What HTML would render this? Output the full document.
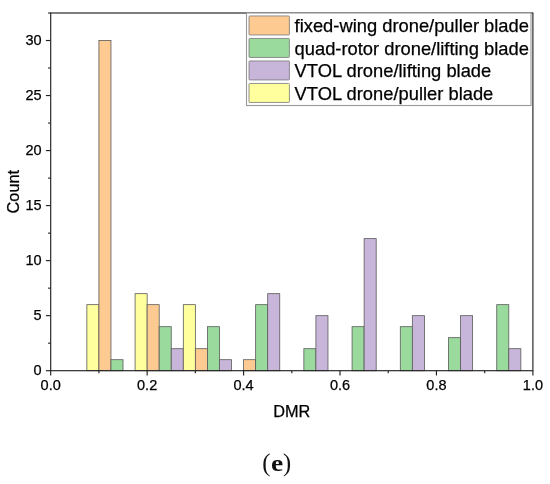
<!DOCTYPE html>
<html><head><meta charset="utf-8"><title>DMR histogram (e)</title>
<style>html,body{margin:0;padding:0;background:#fff;}body{width:550px;height:484px;position:relative;overflow:hidden;}</style>
</head><body>
<svg width="550" height="484" viewBox="0 0 550 484" style="position:absolute;left:0;top:0">
<rect x="86.87" y="304.66" width="12.05" height="66.04" fill="#FFFF9E" stroke="#5a5a5a" stroke-width="0.8"/>
<rect x="98.92" y="40.52" width="12.05" height="330.18" fill="#FDCA91" stroke="#5a5a5a" stroke-width="0.8"/>
<rect x="110.97" y="359.69" width="12.06" height="11.01" fill="#9BDA9D" stroke="#5a5a5a" stroke-width="0.8"/>
<rect x="135.08" y="293.66" width="12.06" height="77.04" fill="#FFFF9E" stroke="#5a5a5a" stroke-width="0.8"/>
<rect x="147.14" y="304.66" width="12.06" height="66.04" fill="#FDCA91" stroke="#5a5a5a" stroke-width="0.8"/>
<rect x="159.19" y="326.68" width="12.06" height="44.02" fill="#9BDA9D" stroke="#5a5a5a" stroke-width="0.8"/>
<rect x="171.25" y="348.69" width="12.06" height="22.01" fill="#C8B5DA" stroke="#5a5a5a" stroke-width="0.8"/>
<rect x="183.31" y="304.66" width="12.06" height="66.04" fill="#FFFF9E" stroke="#5a5a5a" stroke-width="0.8"/>
<rect x="195.36" y="348.69" width="12.06" height="22.01" fill="#FDCA91" stroke="#5a5a5a" stroke-width="0.8"/>
<rect x="207.42" y="326.68" width="12.06" height="44.02" fill="#9BDA9D" stroke="#5a5a5a" stroke-width="0.8"/>
<rect x="219.47" y="359.69" width="12.05" height="11.01" fill="#C8B5DA" stroke="#5a5a5a" stroke-width="0.8"/>
<rect x="243.58" y="359.69" width="12.06" height="11.01" fill="#FDCA91" stroke="#5a5a5a" stroke-width="0.8"/>
<rect x="255.64" y="304.66" width="12.06" height="66.04" fill="#9BDA9D" stroke="#5a5a5a" stroke-width="0.8"/>
<rect x="267.69" y="293.66" width="12.06" height="77.04" fill="#C8B5DA" stroke="#5a5a5a" stroke-width="0.8"/>
<rect x="303.86" y="348.69" width="12.06" height="22.01" fill="#9BDA9D" stroke="#5a5a5a" stroke-width="0.8"/>
<rect x="315.91" y="315.67" width="12.06" height="55.03" fill="#C8B5DA" stroke="#5a5a5a" stroke-width="0.8"/>
<rect x="352.07" y="326.68" width="12.05" height="44.02" fill="#9BDA9D" stroke="#5a5a5a" stroke-width="0.8"/>
<rect x="364.13" y="238.63" width="12.06" height="132.07" fill="#C8B5DA" stroke="#5a5a5a" stroke-width="0.8"/>
<rect x="400.30" y="326.68" width="12.05" height="44.02" fill="#9BDA9D" stroke="#5a5a5a" stroke-width="0.8"/>
<rect x="412.35" y="315.67" width="12.06" height="55.03" fill="#C8B5DA" stroke="#5a5a5a" stroke-width="0.8"/>
<rect x="448.51" y="337.68" width="12.06" height="33.02" fill="#9BDA9D" stroke="#5a5a5a" stroke-width="0.8"/>
<rect x="460.57" y="315.67" width="12.05" height="55.03" fill="#C8B5DA" stroke="#5a5a5a" stroke-width="0.8"/>
<rect x="496.74" y="304.66" width="12.05" height="66.04" fill="#9BDA9D" stroke="#5a5a5a" stroke-width="0.8"/>
<rect x="508.79" y="348.69" width="12.06" height="22.01" fill="#C8B5DA" stroke="#5a5a5a" stroke-width="0.8"/>
<rect x="50.70" y="13.00" width="482.20" height="357.70" fill="none" stroke="#222" stroke-width="1.15"/>
<line x1="50.70" y1="370.70" x2="50.70" y2="375.50" stroke="#222" stroke-width="1.15"/>
<line x1="98.92" y1="370.70" x2="98.92" y2="373.30" stroke="#222" stroke-width="1.15"/>
<line x1="147.14" y1="370.70" x2="147.14" y2="375.50" stroke="#222" stroke-width="1.15"/>
<line x1="195.36" y1="370.70" x2="195.36" y2="373.30" stroke="#222" stroke-width="1.15"/>
<line x1="243.58" y1="370.70" x2="243.58" y2="375.50" stroke="#222" stroke-width="1.15"/>
<line x1="291.80" y1="370.70" x2="291.80" y2="373.30" stroke="#222" stroke-width="1.15"/>
<line x1="340.02" y1="370.70" x2="340.02" y2="375.50" stroke="#222" stroke-width="1.15"/>
<line x1="388.24" y1="370.70" x2="388.24" y2="373.30" stroke="#222" stroke-width="1.15"/>
<line x1="436.46" y1="370.70" x2="436.46" y2="375.50" stroke="#222" stroke-width="1.15"/>
<line x1="484.68" y1="370.70" x2="484.68" y2="373.30" stroke="#222" stroke-width="1.15"/>
<line x1="532.90" y1="370.70" x2="532.90" y2="375.50" stroke="#222" stroke-width="1.15"/>
<line x1="50.70" y1="370.70" x2="45.90" y2="370.70" stroke="#222" stroke-width="1.15"/>
<line x1="50.70" y1="343.18" x2="48.10" y2="343.18" stroke="#222" stroke-width="1.15"/>
<line x1="50.70" y1="315.67" x2="45.90" y2="315.67" stroke="#222" stroke-width="1.15"/>
<line x1="50.70" y1="288.15" x2="48.10" y2="288.15" stroke="#222" stroke-width="1.15"/>
<line x1="50.70" y1="260.64" x2="45.90" y2="260.64" stroke="#222" stroke-width="1.15"/>
<line x1="50.70" y1="233.12" x2="48.10" y2="233.12" stroke="#222" stroke-width="1.15"/>
<line x1="50.70" y1="205.61" x2="45.90" y2="205.61" stroke="#222" stroke-width="1.15"/>
<line x1="50.70" y1="178.09" x2="48.10" y2="178.09" stroke="#222" stroke-width="1.15"/>
<line x1="50.70" y1="150.58" x2="45.90" y2="150.58" stroke="#222" stroke-width="1.15"/>
<line x1="50.70" y1="123.06" x2="48.10" y2="123.06" stroke="#222" stroke-width="1.15"/>
<line x1="50.70" y1="95.55" x2="45.90" y2="95.55" stroke="#222" stroke-width="1.15"/>
<line x1="50.70" y1="68.03" x2="48.10" y2="68.03" stroke="#222" stroke-width="1.15"/>
<line x1="50.70" y1="40.52" x2="45.90" y2="40.52" stroke="#222" stroke-width="1.15"/>
<line x1="50.70" y1="13.00" x2="48.10" y2="13.00" stroke="#222" stroke-width="1.15"/>
<g font-family="Liberation Sans, Arial, sans-serif" font-size="14.5" fill="#000" stroke="#000" stroke-width="0.25">
<text x="50.70" y="390.3" text-anchor="middle">0.0</text>
<text x="147.14" y="390.3" text-anchor="middle">0.2</text>
<text x="243.58" y="390.3" text-anchor="middle">0.4</text>
<text x="340.02" y="390.3" text-anchor="middle">0.6</text>
<text x="436.46" y="390.3" text-anchor="middle">0.8</text>
<text x="532.90" y="390.3" text-anchor="middle">1.0</text>
<text x="41.7" y="375.10" text-anchor="end">0</text>
<text x="41.7" y="320.07" text-anchor="end">5</text>
<text x="41.7" y="265.04" text-anchor="end">10</text>
<text x="41.7" y="210.01" text-anchor="end">15</text>
<text x="41.7" y="154.98" text-anchor="end">20</text>
<text x="41.7" y="99.95" text-anchor="end">25</text>
<text x="41.7" y="44.92" text-anchor="end">30</text>
</g>
<g font-family="Liberation Sans, Arial, sans-serif" font-size="16.3" fill="#000" stroke="#000" stroke-width="0.25">
<text x="291.7" y="417.3" text-anchor="middle">DMR</text>
<text transform="translate(18.9,191.7) rotate(-90)" text-anchor="middle">Count</text>
</g>
<rect x="246.5" y="13.0" width="284.5" height="92.5" fill="#fff" stroke="#9a9a9a" stroke-width="1.1"/>
<g font-family="Liberation Sans, Arial, sans-serif" font-size="18.33" fill="#000" stroke="#000" stroke-width="0.25">
<rect x="249.0" y="15.95" width="40.4" height="19.0" rx="0.8" fill="#FDCA91" stroke="#777" stroke-width="0.8"/>
<text x="294.6" y="32.40">fixed-wing drone/puller blade</text>
<rect x="249.0" y="38.45" width="40.4" height="19.0" rx="0.8" fill="#9BDA9D" stroke="#777" stroke-width="0.8"/>
<text x="294.6" y="54.90">quad-rotor drone/lifting blade</text>
<rect x="249.0" y="60.95" width="40.4" height="19.0" rx="0.8" fill="#C8B5DA" stroke="#777" stroke-width="0.8"/>
<text x="294.6" y="77.40">VTOL drone/lifting blade</text>
<rect x="249.0" y="83.45" width="40.4" height="19.0" rx="0.8" fill="#FFFF9E" stroke="#777" stroke-width="0.8"/>
<text x="294.6" y="99.90">VTOL drone/puller blade</text>
</g>
<g font-family="Liberation Serif, serif" fill="#111">
<text x="266.4" y="471.2" text-anchor="middle" font-size="24.5">(</text>
<text transform="translate(277.0,471.4) scale(1.1,0.9)" text-anchor="middle" font-size="25" font-weight="bold">e</text>
<text x="287.2" y="470.9" text-anchor="middle" font-size="24.5">)</text>
</g>
</svg>
</body></html>
